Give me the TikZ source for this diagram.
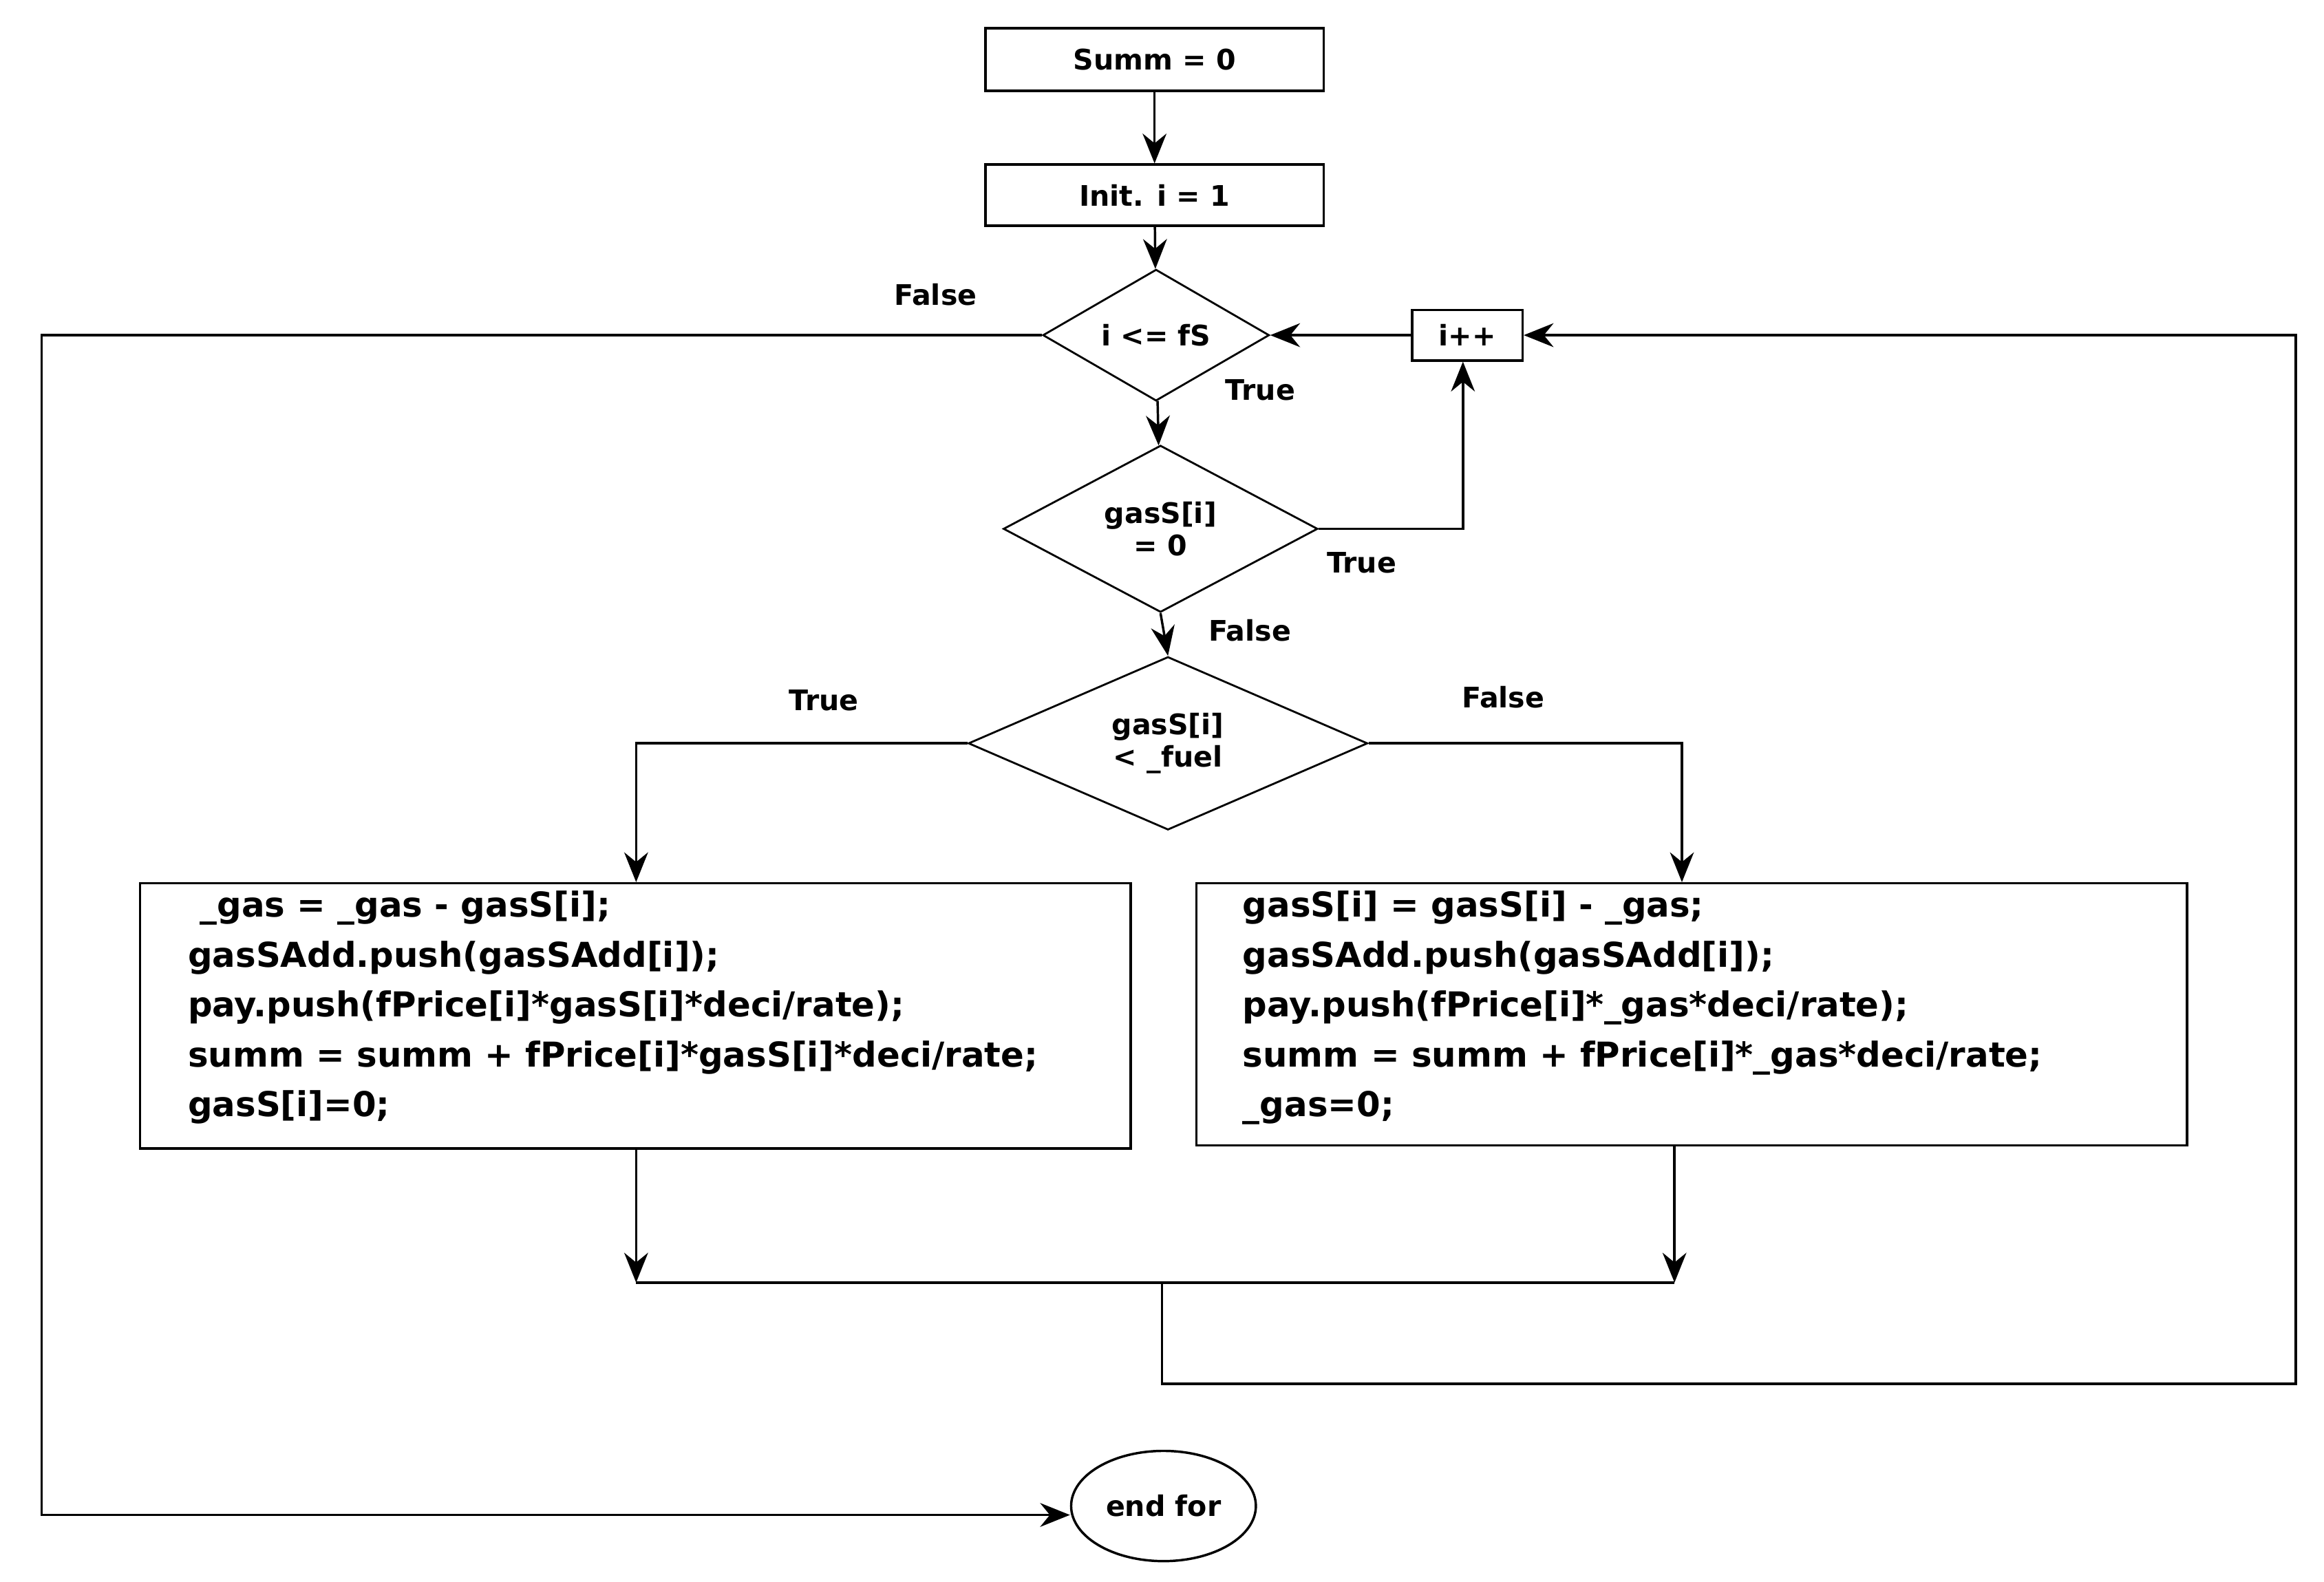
\documentclass[tikz,border=0pt]{standalone}
\usepackage{fontspec}
\setmainfont{DejaVu Sans}
\usetikzlibrary{shapes.geometric,arrows.meta}
\begin{document}
\begin{tikzpicture}[x=1pt,y=-1pt,
  every node/.style={font=\fontsize{19}{22}\selectfont\bfseries},
  box/.style={draw,line width=1.6pt,inner sep=0pt},
  dia/.style={draw,line width=1.3pt,diamond,inner sep=0pt,align=center},
  ln/.style={line width=1.6pt},
  ar/.style={ln,-{Stealth[length=20pt,width=16pt]}},
  code/.style={font=\fontsize{23}{33.5}\selectfont\bfseries,align=left,anchor=north west,inner sep=0pt}]
\useasboundingbox (0,0) rectangle (1560,1062);
\node[box,minimum width=227pt,minimum height=42pt] (summ) at (775,40) {Summ = 0};
\node[box,minimum width=227pt,minimum height=41pt] (init) at (775,131) {Init. i = 1};
\node[dia,minimum width=152pt,minimum height=56pt] (d1) at (776,225) {i <= fS};
\node[box,minimum width=74pt,minimum height=34pt] (inc) at (985,225) {i++};
\node[dia,minimum width=211pt,minimum height=107pt] (d2) at (779,355) {gasS[i]\\= 0};
\node[dia,minimum width=268pt,minimum height=106pt] (d3) at (784,499) {gasS[i]\\< \_fuel};
\node[box,minimum width=665pt,minimum height=178pt] (lb) at (426.5,682) {};
\node[box,minimum width=665pt,minimum height=176pt] (rb) at (1135.5,681) {};
\node[code] (lt) at (126,598) {\ \_gas = \_gas - gasS[i];\\gasSAdd.push(gasSAdd[i]);\\pay.push(fPrice[i]*gasS[i]*deci/rate);\\summ = summ + fPrice[i]*gasS[i]*deci/rate;\\gasS[i]=0;};
\node[code] (rt) at (834,598) {gasS[i] = gasS[i] - \_gas;\\gasSAdd.push(gasSAdd[i]);\\pay.push(fPrice[i]*\_gas*deci/rate);\\summ = summ + fPrice[i]*\_gas*deci/rate;\\\_gas=0;};
\node[draw,ellipse,line width=1.6pt,minimum width=124pt,minimum height=74pt,inner sep=0pt] (end) at (781,1011) {end for};
% labels
\node (l1) at (628,198) {False};
\node (l2) at (846,262) {True};
\node (l3) at (914,378) {True};
\node (l4) at (839,423) {False};
\node (l5) at (553,470) {True};
\node (l6) at (1009,468) {False};
% coordinates
\coordinate (c1) at (28,225);
\coordinate (c2) at (28,1017);
\coordinate (c3) at (982,355);
\coordinate (c4) at (427,499);
\coordinate (c5) at (1129,499);
\coordinate (m1) at (427,861);
\coordinate (m2) at (1124,861);
\coordinate (m3) at (780,861);
\coordinate (m4) at (780,929);
\coordinate (m5) at (1541,929);
\coordinate (m6) at (1541,225);
% connectors
\draw[ar] (summ) -- (init);
\draw[ar] (init) -- (d1);
\draw[ar] (d1) -- (d2);
\draw[ar] (d2.south) -- (d3.north);
\draw[ar] (inc) -- (d1.east);
\draw[ar] (d2.east) -- (c3) -- (inc.south -| c3);
\draw[ar] (d3.west) -- (c4) -- (lb.north -| c4);
\draw[ar] (d3.east) -- (c5) -- (rb.north -| c5);
\draw[ar] (lb.south -| m1) -- (m1);
\draw[ar] (rb.south -| m2) -- (m2);
\draw[ln] (m1) -- (m2);
\draw[ar] (m3) -- (m4) -- (m5) -- (m6) -- (inc.east);
\draw[ar] (d1.west) -- (c1) -- (c2) -- (end.west |- c2);
\end{tikzpicture}
\end{document}
